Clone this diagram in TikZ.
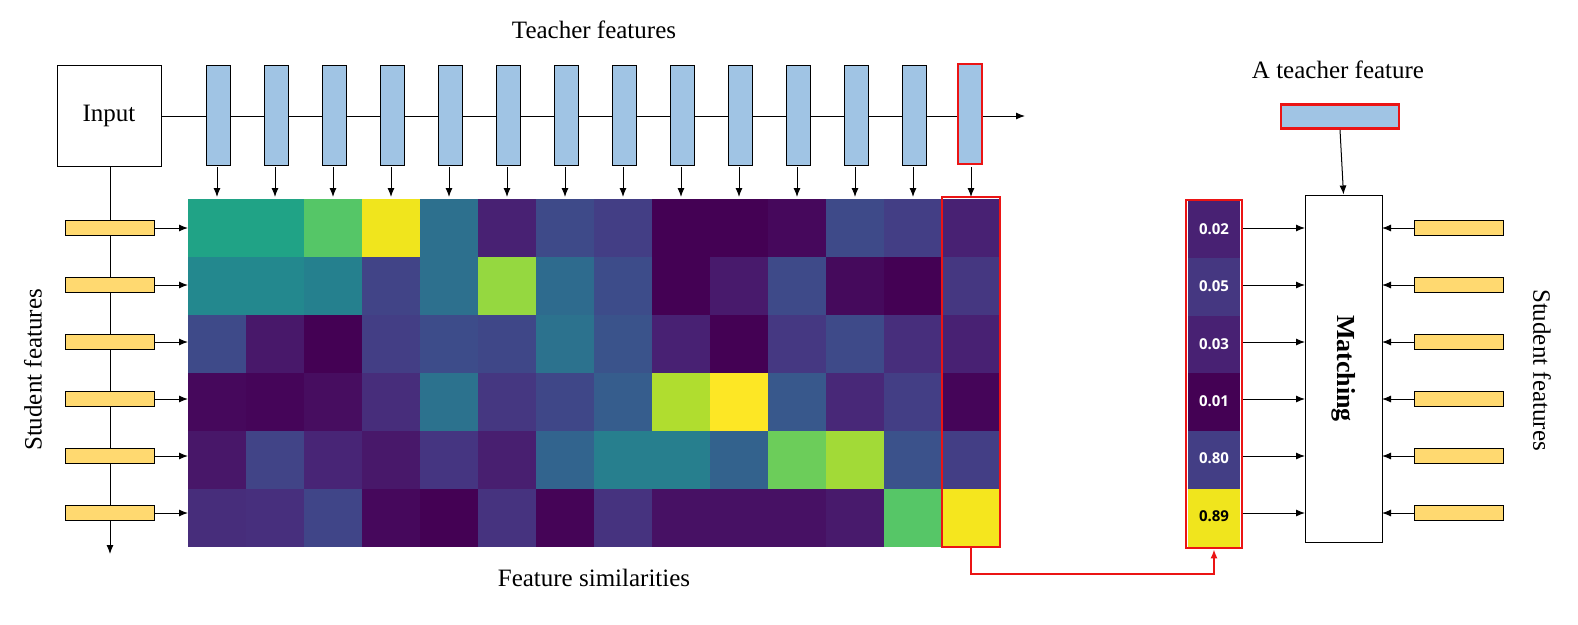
\documentclass[tikz,border=0pt]{standalone}
\usepackage{fontspec}
\setmainfont{Liberation Serif}
\newfontfamily\numfont{Open Sans}
\usetikzlibrary{arrows.meta}
\definecolor{myred}{RGB}{235,20,20}
\definecolor{tblue}{RGB}{160,196,228}
\definecolor{syel}{RGB}{255,217,112}
\begin{document}
\begin{tikzpicture}[x=1pt,y=-1pt,
  tbar/.style={draw=black,line width=0.8pt,fill=tblue,minimum width=24pt,minimum height=100pt,inner sep=0pt},
  sbar/.style={draw=black,line width=0.8pt,fill=syel,minimum width=89pt,minimum height=15pt,inner sep=0pt},
  arr/.style={-{Latex[length=9pt,width=7pt]},line width=1pt},
  lbl/.style={font=\fontsize{25}{28}\selectfont},
  redb/.style={draw=myred,line width=2.6pt}]
\useasboundingbox (0,0) rectangle (1578,624);
\node[lbl] at (594,30) {Teacher features};
\node[draw,line width=0.8pt,minimum width=104pt,minimum height=101pt,inner sep=0pt,lbl] (in) at (109,115.5) {Input};
\coordinate (tend) at (1025,116);
\draw[arr] (in.east |- 0,116) -- (tend);
\foreach \i in {1,...,13}{
  \node[tbar] (t\i) at ({218+58*(\i-1)},115.5) {};
}
\node[tbar,redb] (t14) at (970,114) {};
\foreach \i in {1,...,14}{
  \coordinate (h\i) at ({217+58*(\i-1)},197);
  \draw[arr] ({217+58*(\i-1)},167) -- (h\i);
}
% heatmap
\foreach \row [count=\r] in {
 {20a386,20a386,55c667,f0e51d,2d708e,482173,3e4a89,433e85,440154,440154,46085c,3e4a89,433e85,482173},
 {23888e,23888e,25808e,414487,2d708e,95d840,2e6b8e,3d4c8a,440154,481a6c,3e4a89,450a5c,440154,453781},
 {3e4a89,48186a,440154,433e85,3d4c8a,3f4788,2c728e,3a538b,482173,440154,453882,3e4a89,472e7c,482173},
 {46085c,450559,470d60,472d7b,2c728e,453781,3f4788,365d8d,b0dd2f,fde725,38588c,482878,433e85,450559},
 {481769,414487,482576,48186a,453581,481f70,32648e,277f8e,277f8e,33628d,6ccd5a,a2da37,3b528b,433e85},
 {472d7b,472f7d,404588,46085c,440154,46337f,450457,46337f,471164,471164,471164,481a6c,56c667,f5e61e}}{
  \foreach \c [count=\k] in \row {
    \definecolor{cc}{HTML}{\c}
    \fill[cc] ({188+58*(\k-1)},{199+58*(\r-1)}) rectangle ({188+58*\k+0.4},{199+58*\r+0.4});
  }
}
\node[redb,minimum width=58pt,minimum height=350pt,inner sep=0pt] (col) at (971,372) {};
\node[lbl] at (594,578) {Feature similarities};
% left students
\coordinate (lend) at (110,554);
\draw[arr] (in.south -| 110,0) -- (lend);
\foreach \j in {1,...,6}{
  \node[sbar] (s\j) at (109.5,{228+57*(\j-1)}) {};
  \coordinate (hs\j) at (188,{228+57*(\j-1)});
  \draw[arr] (s\j.east) -- (hs\j);
}
\node[lbl,rotate=90] at (33,370) {Student features};
% right part
\node[lbl] at (1338,70) {A teacher feature};
\node[tbar,redb,minimum width=118pt,minimum height=24pt] (tf) at (1340,116.5) {};
\node[draw,line width=1pt,minimum width=77pt,minimum height=347pt,inner sep=0pt] (m) at (1343.5,368.5) {};
\node[rotate=-90,font=\fontsize{26}{28}\selectfont\bfseries] at (m.center) {Matching};
\draw[arr] (tf.south) -- (m.north);
\foreach \c/\v/\tc [count=\j] in {482173/0.02/white,453781/0.05/white,482173/0.03/white,440154/0.01/white,433e85/0.80/white,f0e51d/0.89/black}{
  \definecolor{cc}{HTML}{\c}
  \fill[cc] (1188,{200+57.8*(\j-1)}) rectangle (1240,{200+57.8*\j});
  \node[text=\tc,font=\numfont\bfseries\fontsize{15}{16}\selectfont] at (1214,{229+57.4*(\j-1)}) {\v};
  \coordinate (ml\j) at (1305,{228+57*(\j-1)});
  \coordinate (mr\j) at (1382,{228+57*(\j-1)});
  \draw[arr] (1243,{228+57*(\j-1)}) -- (ml\j);
  \node[sbar] (r\j) at (1458.5,{228+57*(\j-1)}) {};
  \draw[arr] (r\j.west) -- (mr\j);
}
\node[redb,minimum width=56pt,minimum height=348pt,inner sep=0pt] (vc) at (1214,374) {};
\node[lbl,rotate=-90] at (1542,370) {Student features};
\draw[myred,line width=2pt,-{Latex[length=9pt,width=7pt]}] (col.south) -- ++(0,26) -| (vc.south);
\end{tikzpicture}
\end{document}
